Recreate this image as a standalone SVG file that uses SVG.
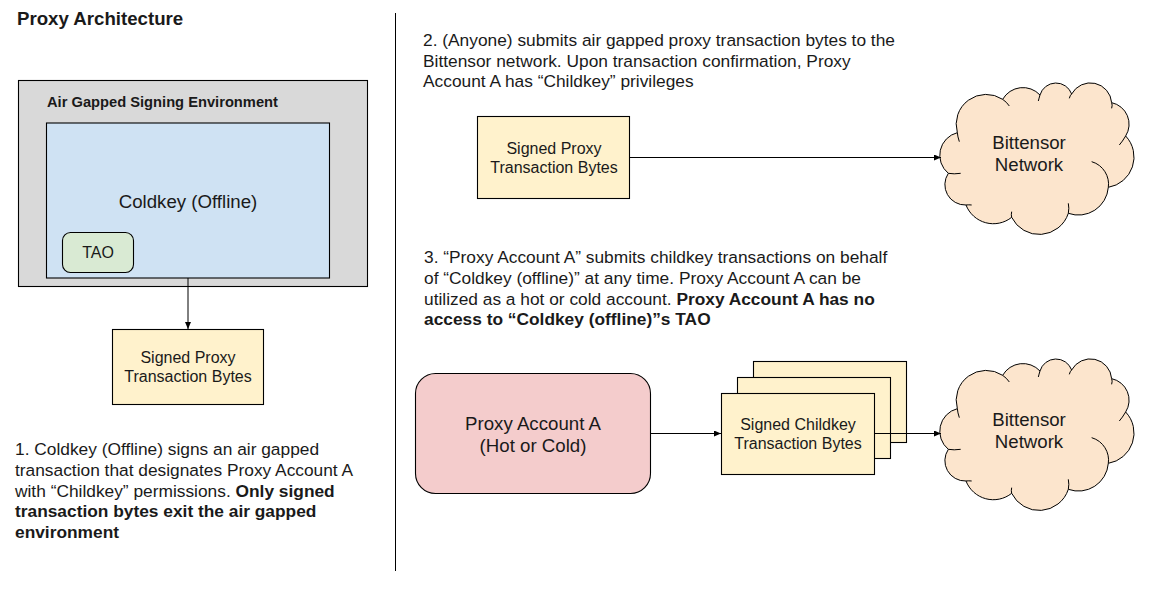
<svg xmlns="http://www.w3.org/2000/svg" xmlns:xlink="http://www.w3.org/1999/xlink" width="1152" height="614" viewBox="0 0 1152 614">
<style>
text{font-family:"Liberation Sans",Arial,sans-serif;fill:#1a1a1a}
.b{font-size:17.330px}.c{text-anchor:middle}.m{font-size:16px}.l{font-size:18.670px}
.bold{font-weight:bold}
.s{stroke:#000;stroke-width:1.1}
.doc{fill:#fff2cc}
.line{fill:none;stroke:#000;stroke-width:1}
</style>
<defs>
<marker id="a" markerWidth="8" markerHeight="6" refX="7" refY="3" orient="auto" markerUnits="userSpaceOnUse"><path d="M0 0L7 3L0 6z" fill="#000"/></marker>
<g id="cloud" transform="translate(930 80) scale(.3333)">
<path fill="#fce5cd" stroke="#000" stroke-width="3" d="M55 280A70 70 0 0 1 82 158A90 90 0 0 1 218 58A70 70 0 0 1 330 45A50 50 0 0 1 425 42A64 64 0 0 1 545 68A66 66 0 0 1 587 168A92 92 0 0 1 535 322A90 90 0 0 1 415 400A92 92 0 0 1 245 412A88 88 0 0 1 108 375A61 61 0 0 1 55 280Z"/>
<path fill="none" stroke="#000" stroke-width="3" d="M55 280Q72 283 92 280M82 158Q83 170 88 185M218 58Q230 66 238 78M330 45Q327 55 325 63M425 42Q420 46 418 55M545 68Q548 75 545 85M587 168Q577 185 568 195M535 322C540 290 520 255 485 245M415 400Q418 385 415 370M245 412Q243 405 245 395M108 375Q116 374 125 375"/>
</g>
</defs>
<rect width="1152" height="614" fill="#fff"/>
<text id="title" class="l bold" x="17" y="25">Proxy Architecture</text>
<line id="divider" x1="395.500" y1="13" x2="395.500" y2="571" stroke="#000" stroke-width="1"/>
<g id="env"><rect class="s" x="18.500" y="80.500" width="349" height="206" fill="#d9d9d9"/><text class="bold" font-size="14.700" x="47" y="107">Air Gapped Signing Environment</text></g>
<g id="coldkey"><rect class="s" x="46.500" y="123" width="283" height="155" fill="#cfe2f3"/><text class="l c" x="188" y="208">Coldkey (Offline)</text></g>
<g id="tao"><rect class="s" x="62.500" y="232.500" width="71" height="40" rx="8" fill="#d9ead3"/><text class="m c" x="98" y="258">TAO</text></g>
<g id="signed1"><rect class="s doc" x="112.500" y="329.500" width="151" height="75"/><text class="m c" x="188" y="363">Signed Proxy</text><text class="m c" x="188" y="382">Transaction Bytes</text></g>
<g id="note1">
<text class="b" x="15" y="455">1. Coldkey (Offline) signs an air gapped</text>
<text class="b" x="15" y="476">transaction that designates Proxy Account A</text>
<text class="b" x="15" y="497">with “Childkey” permissions. <tspan class="bold">Only signed</tspan></text>
<text class="b bold" x="15" y="517">transaction bytes exit the air gapped</text>
<text class="b bold" x="15" y="538">environment</text>
</g>
<g id="note2">
<text class="b" x="423" y="46">2. (Anyone) submits air gapped proxy transaction bytes to the</text>
<text class="b" x="423" y="67">Bittensor network. Upon transaction confirmation, Proxy</text>
<text class="b" x="423" y="87">Account A has “Childkey” privileges</text>
</g>
<g id="signed2"><rect class="s doc" x="477.500" y="116.500" width="152" height="82"/><text class="m c" x="554" y="154">Signed Proxy</text><text class="m c" x="554" y="173">Transaction Bytes</text></g>
<g id="cloud1"><use xlink:href="#cloud" href="#cloud"/><text class="l c" x="1029" y="149">Bittensor</text><text class="l c" x="1029" y="171">Network</text></g>
<g id="note3">
<text class="b" x="424" y="263">3. “Proxy Account A” submits childkey transactions on behalf</text>
<text class="b" x="424" y="284">of “Coldkey (offline)” at any time. Proxy Account A can be</text>
<text class="b" x="424" y="305">utilized as a hot or cold account. <tspan class="bold">Proxy Account A has no</tspan></text>
<text class="b bold" x="424" y="325">access to “Coldkey (offline)”s TAO</text>
</g>
<g id="proxy"><rect class="s" x="415.500" y="373.500" width="235" height="120" rx="20" fill="#f4cccc"/><text class="l c" x="533" y="430">Proxy Account A</text><text class="l c" x="533" y="452">(Hot or Cold)</text></g>
<g id="stack">
<rect class="s doc" x="753.500" y="361.500" width="153" height="81"/>
<rect class="s doc" x="737.500" y="377.500" width="153" height="81"/>
<rect class="s doc" x="721.500" y="393.500" width="153" height="81"/>
<text class="m c" x="798" y="430">Signed Childkey</text><text class="m c" x="798" y="449">Transaction Bytes</text>
</g>
<g id="cloud2"><use xlink:href="#cloud" href="#cloud" y="276"/><text class="l c" x="1029" y="426">Bittensor</text><text class="l c" x="1029" y="448">Network</text></g>
<g id="connectors">
<line class="line" x1="188" y1="278" x2="188" y2="329" marker-end="url(#a)"/>
<line class="line" x1="630" y1="157.500" x2="941" y2="157.500" marker-end="url(#a)"/>
<line class="line" x1="651" y1="433.500" x2="721" y2="433.500" marker-end="url(#a)"/>
<line class="line" x1="875" y1="433.500" x2="941" y2="433.500" marker-end="url(#a)"/>
</g>
</svg>
